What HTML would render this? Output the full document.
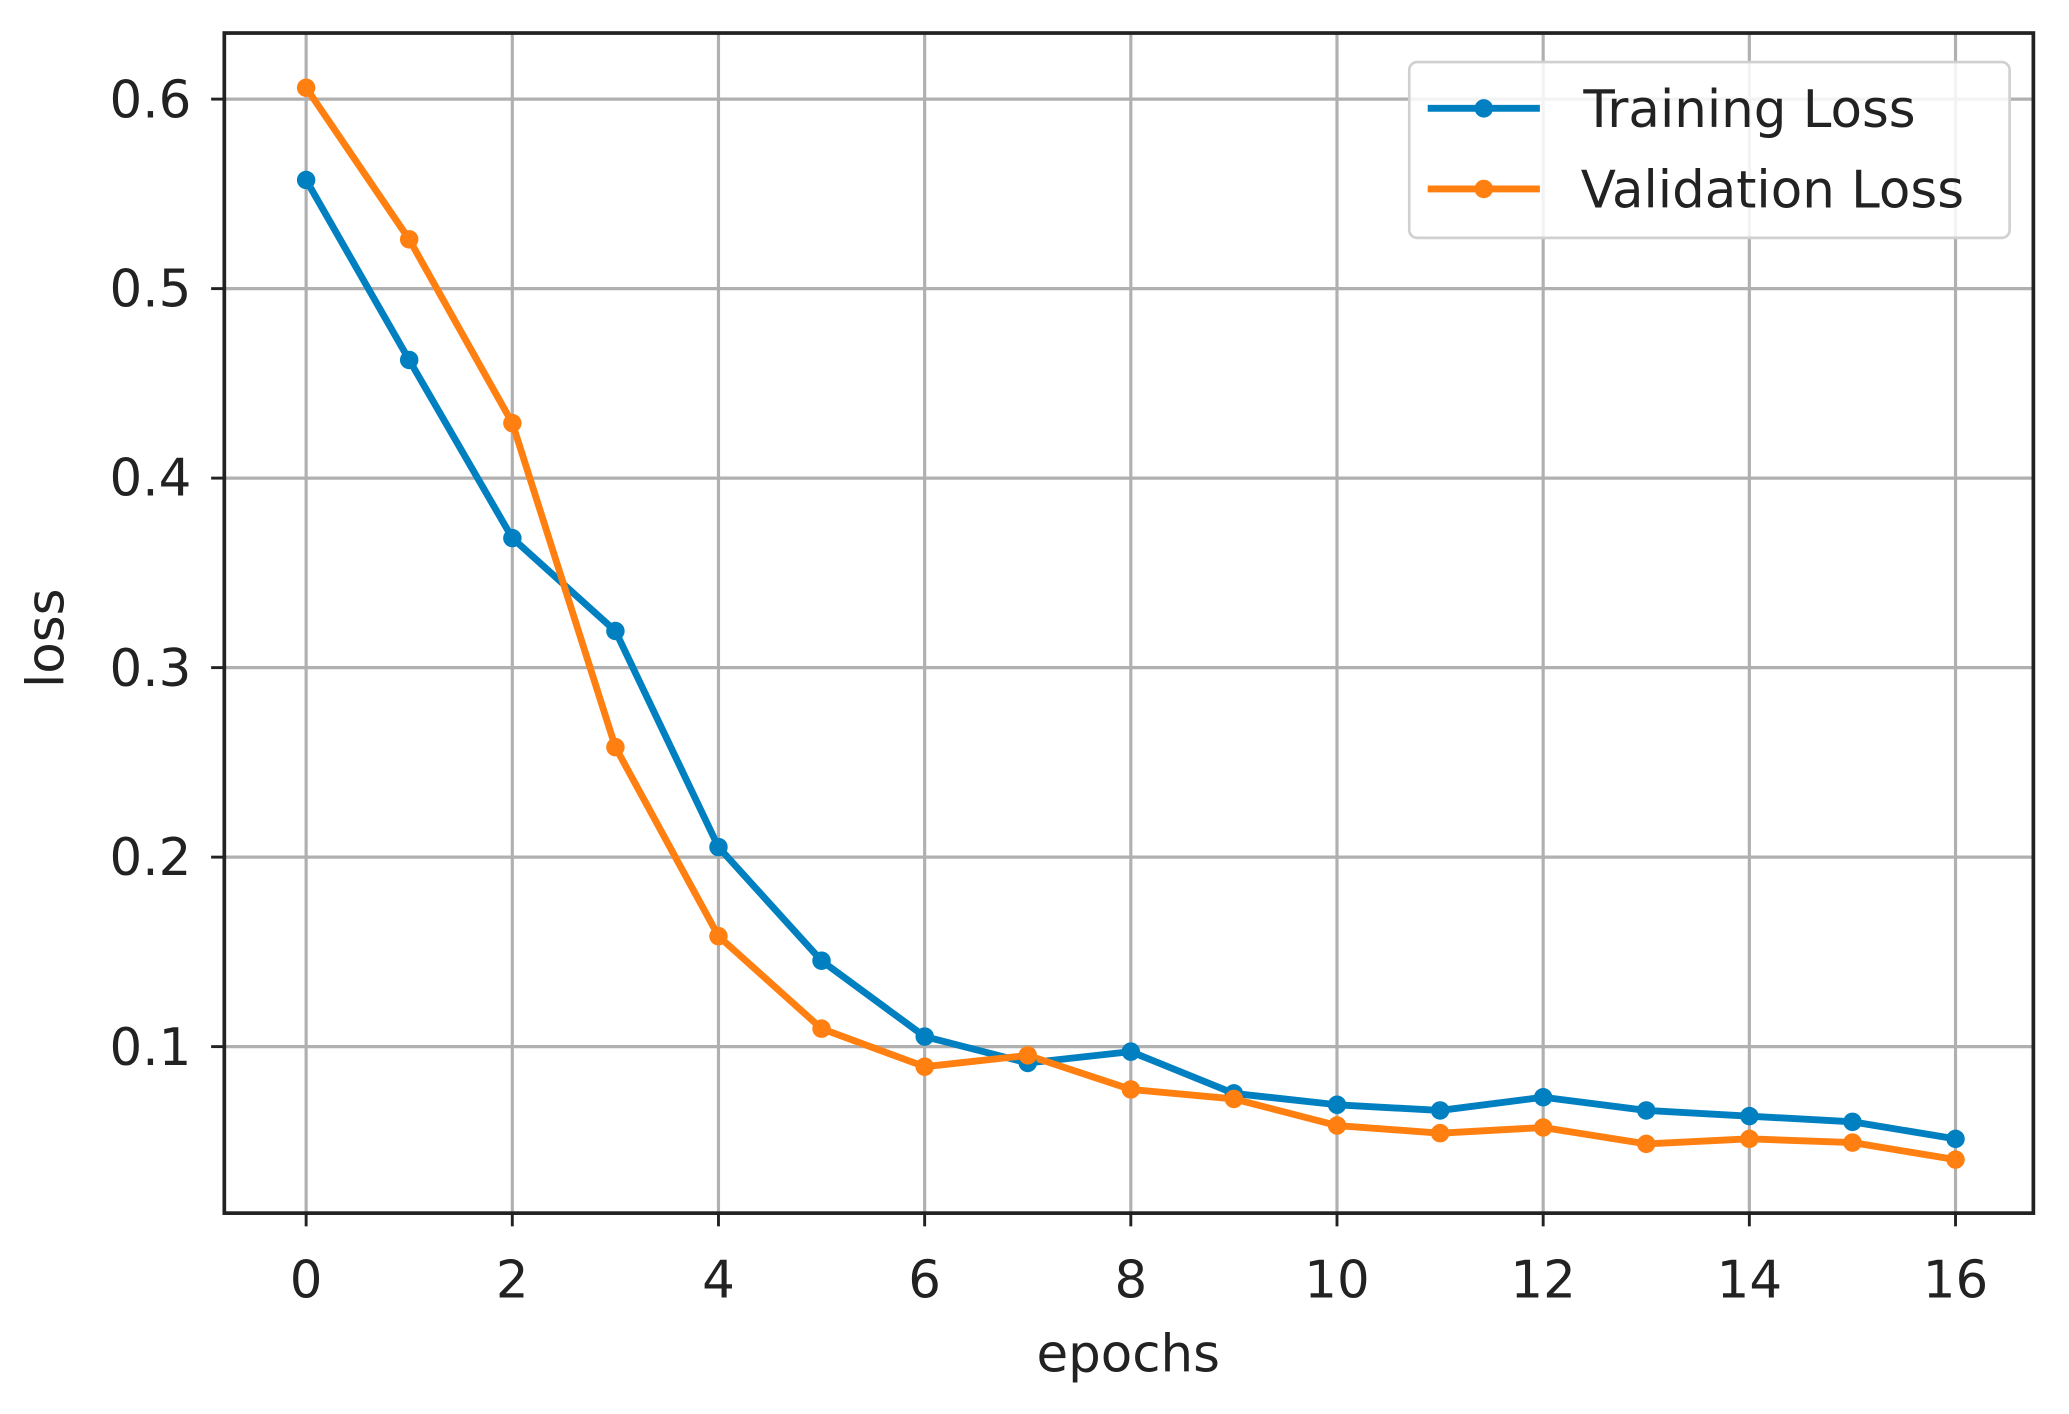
<!DOCTYPE html>
<html><head><style>html,body{margin:0;padding:0;background:#fff}svg{display:block}text{font-family:"DejaVu Sans","Liberation Sans",sans-serif;fill:#222}</style></head>
<body>
<svg width="2069" height="1414" viewBox="0 0 1568 1070" preserveAspectRatio="none" xmlns="http://www.w3.org/2000/svg">
<rect width="1568" height="1070" fill="#fff"/>
<g stroke="#b0b0b0" stroke-width="2.4">
<line x1="232" y1="25" x2="232" y2="918"/><line x1="388.25" y1="25" x2="388.25" y2="918"/><line x1="544.5" y1="25" x2="544.5" y2="918"/><line x1="700.75" y1="25" x2="700.75" y2="918"/><line x1="857" y1="25" x2="857" y2="918"/><line x1="1013.25" y1="25" x2="1013.25" y2="918"/><line x1="1169.5" y1="25" x2="1169.5" y2="918"/><line x1="1325.75" y1="25" x2="1325.75" y2="918"/><line x1="1482" y1="25" x2="1482" y2="918"/>
<line x1="170" y1="75" x2="1541" y2="75"/><line x1="170" y1="218.4" x2="1541" y2="218.4"/><line x1="170" y1="361.8" x2="1541" y2="361.8"/><line x1="170" y1="505.2" x2="1541" y2="505.2"/><line x1="170" y1="648.6" x2="1541" y2="648.6"/><line x1="170" y1="792" x2="1541" y2="792"/>
</g>
<rect x="170" y="25" width="1371" height="893" fill="none" stroke="#222" stroke-width="2.8"/>
<g stroke="#222" stroke-width="2.2">
<line x1="232" y1="918" x2="232" y2="928"/><line x1="388.25" y1="918" x2="388.25" y2="928"/><line x1="544.5" y1="918" x2="544.5" y2="928"/><line x1="700.75" y1="918" x2="700.75" y2="928"/><line x1="857" y1="918" x2="857" y2="928"/><line x1="1013.25" y1="918" x2="1013.25" y2="928"/><line x1="1169.5" y1="918" x2="1169.5" y2="928"/><line x1="1325.75" y1="918" x2="1325.75" y2="928"/><line x1="1482" y1="918" x2="1482" y2="928"/>
<line x1="160" y1="75" x2="170" y2="75"/><line x1="160" y1="218.4" x2="170" y2="218.4"/><line x1="160" y1="361.8" x2="170" y2="361.8"/><line x1="160" y1="505.2" x2="170" y2="505.2"/><line x1="160" y1="648.6" x2="170" y2="648.6"/><line x1="160" y1="792" x2="170" y2="792"/>
</g>
<g font-size="39" text-anchor="middle">
<text x="232" y="982">0</text><text x="388.25" y="982">2</text><text x="544.5" y="982">4</text><text x="700.75" y="982">6</text><text x="857" y="982">8</text><text x="1013.25" y="982">10</text><text x="1169.5" y="982">12</text><text x="1325.75" y="982">14</text><text x="1482" y="982">16</text>
<text x="855" y="1038">epochs</text>
</g>
<g font-size="39" text-anchor="end">
<text x="145" y="89">0.6</text><text x="145" y="232">0.5</text><text x="145" y="375">0.4</text><text x="145" y="519">0.3</text><text x="145" y="662">0.2</text><text x="145" y="806">0.1</text>
</g>
<text font-size="39" text-anchor="middle" transform="translate(48,483) rotate(-90)">loss</text>
<g fill="none" stroke-width="5.2" stroke-linejoin="round">
<polyline stroke="#0080c0" points="232,136.2 310.1,272.4 388.3,407.2 466.4,477.5 544.5,641 622.6,727 700.8,784.4 778.9,804.4 857,795.8 935.1,827.4 1013.3,836 1091.4,840.3 1169.5,830.3 1247.6,840.3 1325.8,844.6 1403.9,848.9 1482,861.8"/>
<polyline stroke="#ff8010" points="232,66.4 310.1,181.1 388.3,320.2 466.4,565.4 544.5,708.4 622.6,778.4 700.8,807.2 778.9,798.6 857,824.4 935.1,831.6 1013.3,851.7 1091.4,857.5 1169.5,853.2 1247.6,865.6 1325.8,861.8 1403.9,864.6 1482,877.5"/>
</g>
<g fill="#0080c0">
<circle cx="232" cy="136.2" r="7"/><circle cx="310.1" cy="272.4" r="7"/><circle cx="388.3" cy="407.2" r="7"/><circle cx="466.4" cy="477.5" r="7"/><circle cx="544.5" cy="641" r="7"/><circle cx="622.6" cy="727" r="7"/><circle cx="700.8" cy="784.4" r="7"/><circle cx="778.9" cy="804.4" r="7"/><circle cx="857" cy="795.8" r="7"/><circle cx="935.1" cy="827.4" r="7"/><circle cx="1013.3" cy="836" r="7"/><circle cx="1091.4" cy="840.3" r="7"/><circle cx="1169.5" cy="830.3" r="7"/><circle cx="1247.6" cy="840.3" r="7"/><circle cx="1325.8" cy="844.6" r="7"/><circle cx="1403.9" cy="848.9" r="7"/><circle cx="1482" cy="861.8" r="7"/>
</g>
<g fill="#ff8010">
<circle cx="232" cy="66.4" r="7"/><circle cx="310.1" cy="181.1" r="7"/><circle cx="388.3" cy="320.2" r="7"/><circle cx="466.4" cy="565.4" r="7"/><circle cx="544.5" cy="708.4" r="7"/><circle cx="622.6" cy="778.4" r="7"/><circle cx="700.8" cy="807.2" r="7"/><circle cx="778.9" cy="798.6" r="7"/><circle cx="857" cy="824.4" r="7"/><circle cx="935.1" cy="831.6" r="7"/><circle cx="1013.3" cy="851.7" r="7"/><circle cx="1091.4" cy="857.5" r="7"/><circle cx="1169.5" cy="853.2" r="7"/><circle cx="1247.6" cy="865.6" r="7"/><circle cx="1325.8" cy="861.8" r="7"/><circle cx="1403.9" cy="864.6" r="7"/><circle cx="1482" cy="877.5" r="7"/>
</g>
<rect x="1068" y="47" width="455" height="133" rx="6" fill="#fff" fill-opacity="0.85" stroke="#d0d0d0" stroke-width="2"/>
<line x1="1082" y1="82" x2="1167" y2="82" stroke="#0080c0" stroke-width="5.2"/><circle cx="1124.5" cy="82" r="7" fill="#0080c0"/>
<line x1="1082" y1="143" x2="1167" y2="143" stroke="#ff8010" stroke-width="5.2"/><circle cx="1124.5" cy="143" r="7" fill="#ff8010"/>
<text x="1200" y="96" font-size="39">Training Loss</text>
<text x="1198" y="157" font-size="39">Validation Loss</text>
</svg>
</body></html>
